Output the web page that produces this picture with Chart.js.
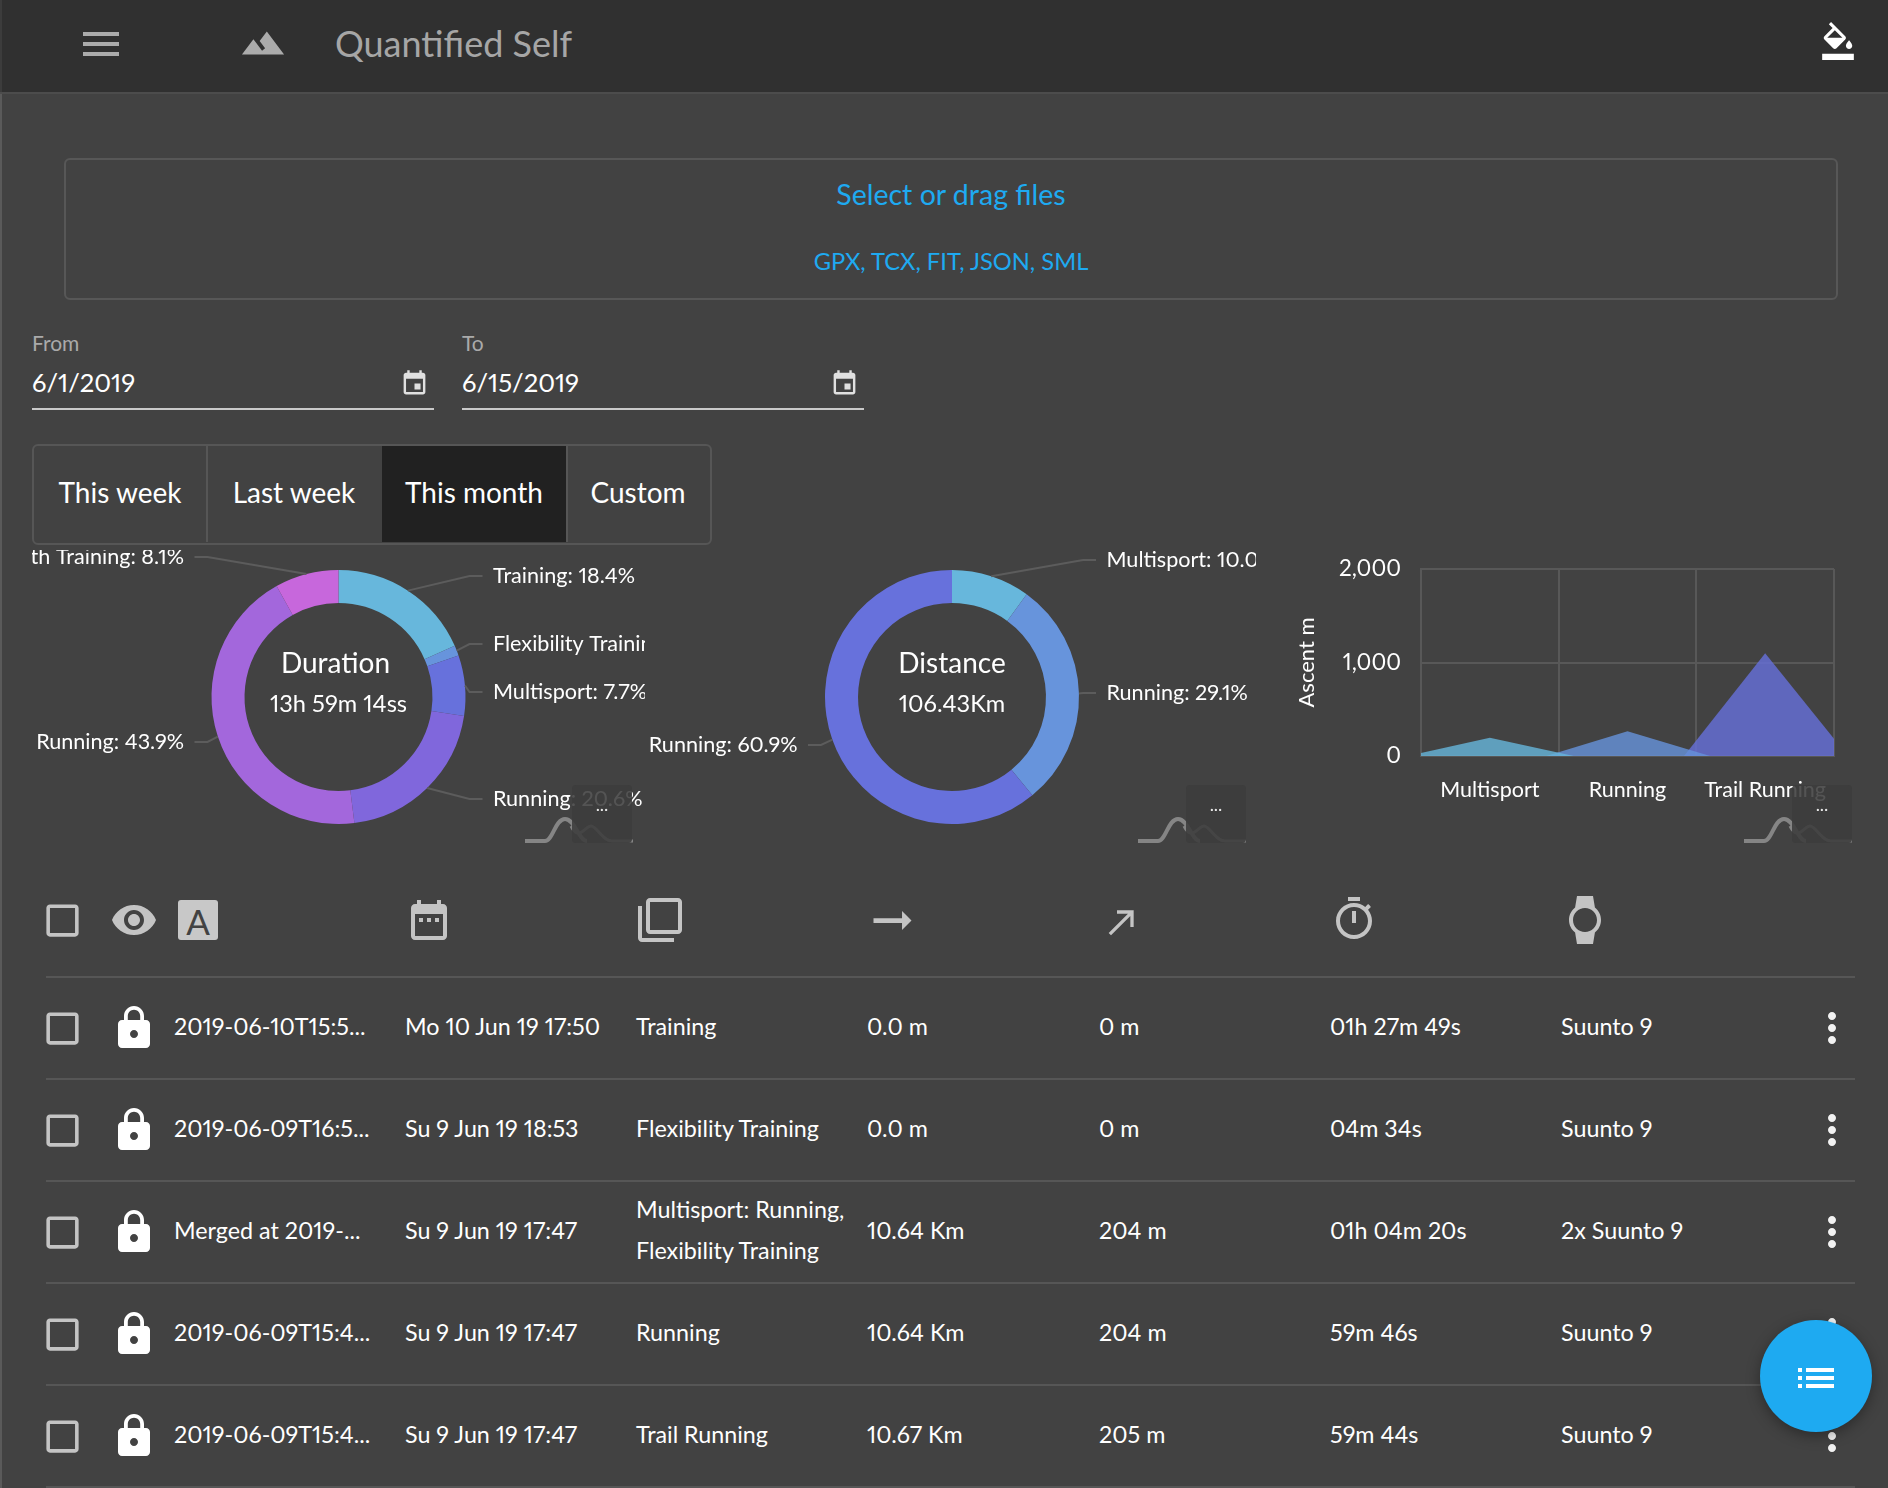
<!DOCTYPE html>
<html>
<head>
<meta charset="utf-8">
<title>Quantified Self</title>
<script src="https://cdn.jsdelivr.net/npm/chart.js@4/dist/chart.umd.min.js"></script>
<style>
  html, body { margin: 0; padding: 0; background: #424242; }
  #page { position: relative; width: 1888px; height: 1488px; overflow: hidden; background: #424242;
    font-family: Lato, "Open Sans", sans-serif; color: #fff; font-feature-settings: "pnum" 1; }
  #page > * { position: absolute; }
  .t { white-space: nowrap; line-height: 1; transform: translateY(-50%); }
  .c { transform: translate(-50%, -50%); }
  svg { display: block; }
  canvas { position: absolute; }
</style>
</head>
<body>
<div id="page"></div>
<script>
// table
const rowNames = ["2019-06-10T15:5...", "2019-06-09T16:5...", "Merged at 2019-...", "2019-06-09T15:4...", "2019-06-09T15:4..."];
const rowDates = ["Mo 10 Jun 19 17:50", "Su 9 Jun 19 18:53", "Su 9 Jun 19 17:47", "Su 9 Jun 19 17:47", "Su 9 Jun 19 17:47"];
const rowTypes = ["Training", "Flexibility Training", "Multisport: Running,|Flexibility Training", "Running", "Trail Running"];
const rowDistances = ["0.0 m", "0.0 m", "10.64 Km", "10.64 Km", "10.67 Km"];
const rowAscents = ["0 m", "0 m", "204 m", "204 m", "205 m"];
const rowDurations = ["01h 27m 49s", "04m 34s", "01h 04m 20s", "59m 46s", "59m 44s"];
const rowDevices = ["Suunto 9", "Suunto 9", "2x Suunto 9", "Suunto 9", "Suunto 9"];

// duration donut
const durationLabels = ["Training", "Flexibility Training", "Multisport", "Running", "Running", "Strength Training"];
const durationValues = [18.4, 1.3, 7.7, 20.6, 43.9, 8.1];

// distance donut
const distanceLabels = ["Multisport", "Running", "Running"];
const distanceValues = [10.0, 29.1, 60.9];

// ascent area chart
const ascentCategories = ["Multisport", "Running", "Trail Running"];
const multisportX = [0, 0.5, 1.11];
const multisportY = [32, 196, 0];
const runningX = [0.91, 1.5, 2.1];
const runningY = [0, 264, 0];
const trailX = [1.91, 2.5, 3];
const trailY = [0, 1100, 185];
const ascentTicks = [0, 1000, 2000];

const palette = ["#67b7dc", "#6794dc", "#6771dc", "#8067dc", "#a367dc", "#c767dc"];

// label rows, offset from donut centre
const durationRows = [-121, -53, -5, 102, 45, -140];
const distanceRows = [-137, -4, 48];

const page = document.getElementById("page");

const paths = {
  menu: "M3 18h18v-2H3v2zm0-5h18v-2H3v2zm0-7v2h18V6H3z",
  mountain: "M14 6l-3.75 5 2.85 3.8-1.6 1.2C9.81 13.75 7 10 7 10l-6 8h22L14 6z",
  fill: "M16.56 8.94L7.62 0 6.21 1.41l2.38 2.38-5.15 5.15c-.59.59-.59 1.54 0 2.12l5.5 5.5c.29.29.68.44 1.06.44s.77-.15 1.06-.44l5.5-5.5c.59-.58.59-1.53 0-2.12zM5.21 10L10 5.21 14.79 10H5.21zM19 11.5s-2 2.17-2 3.5c0 1.1.9 2 2 2s2-.9 2-2c0-1.33-2-3.5-2-3.5zM2 20h20v4H2v-4z",
  box: "M19 5v14H5V5h14m0-2H5c-1.1 0-2 .9-2 2v14c0 1.1.9 2 2 2h14c1.1 0 2-.9 2-2V5c0-1.1-.9-2-2-2z",
  lock: "M18 8h-1V6c0-2.76-2.24-5-5-5S7 3.24 7 6v2H6c-1.1 0-2 .9-2 2v10c0 1.1.9 2 2 2h12c1.1 0 2-.9 2-2V10c0-1.1-.9-2-2-2zm-6 9c-1.1 0-2-.9-2-2s.9-2 2-2 2 .9 2 2-.9 2-2 2zm3.1-9H8.9V6c0-1.71 1.39-3.1 3.1-3.1 1.71 0 3.1 1.39 3.1 3.1v2z",
  dots: "M12 8c1.1 0 2-.9 2-2s-.9-2-2-2-2 .9-2 2 .9 2 2 2zm0 2c-1.1 0-2 .9-2 2s.9 2 2 2 2-.9 2-2-.9-2-2-2zm0 6c-1.1 0-2 .9-2 2s.9 2 2 2 2-.9 2-2-.9-2-2-2z",
  eye: "M12 4.5C7 4.5 2.73 7.61 1 12c1.73 4.39 6 7.5 11 7.5s9.27-3.11 11-7.5c-1.73-4.39-6-7.5-11-7.5zM12 17c-2.76 0-5-2.24-5-5s2.24-5 5-5 5 2.24 5 5-2.24 5-5 5zm0-8c-1.66 0-3 1.34-3 3s1.34 3 3 3 3-1.34 3-3-1.34-3-3-3z",
  copy: "M3 5H1v16c0 1.1.9 2 2 2h16v-2H3V5zm18-4H7c-1.1 0-2 .9-2 2v14c0 1.1.9 2 2 2h14c1.1 0 2-.9 2-2V3c0-1.1-.9-2-2-2zm0 16H7V3h14v14z",
  range: "M9 11H7v2h2v-2zm4 0h-2v2h2v-2zm4 0h-2v2h2v-2zm2-7h-1V2h-2v2H8V2H6v2H5c-1.11 0-1.99.9-1.99 2L3 20c0 1.1.89 2 2 2h14c1.1 0 2-.9 2-2V6c0-1.1-.9-2-2-2zm0 16H5V9h14v11z",
  event: "M17 12h-5v5h5v-5zM16 1v2H8V1H6v2H5c-1.11 0-1.99.9-1.99 2L3 19c0 1.1.89 2 2 2h14c1.1 0 2-.9 2-2V5c0-1.1-.9-2-2-2h-1V1h-2zm3 18H5V8h14v11z",
  arrow: "M16.01 11H4v2h12.01v3L20 12l-3.99-4z",
  made: "M9 5v2h6.59L4 18.59 5.41 20 17 8.41V15h2V5z",
  timer: "M15 1H9v2h6V1zm-4 13h2V8h-2v6zm8.03-6.61l1.42-1.42c-.43-.51-.9-.99-1.41-1.41l-1.42 1.42C16.07 4.74 14.12 4 12 4c-4.97 0-9 4.03-9 9s4.02 9 9 9 9-4.03 9-9c0-2.12-.74-4.07-1.97-5.61zM12 20c-3.87 0-7-3.13-7-7s3.13-7 7-7 7 3.13 7 7-3.13 7-7 7z",
  watch: "M20 12c0-2.54-1.19-4.81-3.04-6.27L16 0H8l-.95 5.73C5.19 7.19 4 9.45 4 12s1.19 4.81 3.05 6.27L8 24h8l.96-5.73C18.81 16.81 20 14.54 20 12zM6 12c0-3.31 2.69-6 6-6s6 2.69 6 6-2.69 6-6 6-6-2.69-6-6z",
  list: "M3 13h2v-2H3v2zm0 4h2v-2H3v2zm0-8h2V7H3v2zm4 4h14v-2H7v2zm0 4h14v-2H7v2zM7 7v2h14V7H7z"
};

function box(x, y, w, h, css) {
  const el = document.createElement("div");
  el.style.cssText = `left:${x}px;top:${y}px;width:${w}px;height:${h}px;${css || ""}`;
  page.appendChild(el);
  return el;
}

function text(str, x, y, size, color, center) {
  const el = document.createElement("div");
  el.className = center ? "t c" : "t";
  el.textContent = str;
  el.style.cssText = `left:${x}px;top:${y}px;font-size:${size}px;color:${color || "#fff"}`;
  page.appendChild(el);
  return el;
}

function icon(name, cx, cy, size, color) {
  const holder = document.createElement("div");
  holder.style.cssText = `left:${cx - size / 2}px;top:${cy - size / 2}px;width:${size}px;height:${size}px`;
  holder.innerHTML = `<svg width="${size}" height="${size}" viewBox="0 0 24 24"><path fill="${color}" d="${paths[name]}"/></svg>`;
  page.appendChild(holder);
}

// header
box(0, 0, 1888, 92, "background:#303030");
box(0, 92, 1888, 2, "background:#4c4c4c");
box(0, 0, 2, 92, "background:#3c3c3c");
box(0, 94, 2, 1394, "background:#5a5a5a");
icon("menu", 101, 44, 48, "#ababab");
icon("mountain", 263, 43, 46, "#ababab");
text("Quantified Self", 335, 43, 36, "#a6a6a6");
icon("fill", 1838, 41, 38, "#fff");

// drop zone
box(64, 158, 1770, 138, "border:2px solid #575757;border-radius:6px");
text("Select or drag files", 951, 194, 28.5, "#1eaaf1", true);
text("GPX, TCX, FIT, JSON, SML", 951, 262, 23.7, "#1eaaf1", true);

// date inputs
text("From", 32, 342, 21, "#aaaaaa");
text("6/1/2019", 32, 383, 25.6);
box(32, 408, 402, 2, "background:#c9c9c9");
icon("event", 414, 383, 29, "#e0e0e0");
text("To", 462, 342, 21, "#aaaaaa");
text("6/15/2019", 462, 383, 25.6);
box(462, 408, 402, 2, "background:#c9c9c9");
icon("event", 844, 383, 29, "#e0e0e0");

// range buttons
box(382, 445, 185, 97, "background:#212121");
box(32, 444, 676, 97, "border:2px solid #565656;border-radius:6px");
box(206, 445, 2, 97, "background:#565656");
box(566, 445, 2, 97, "background:#565656");
text("This week", 120, 492, 28, "#fff", true);
text("Last week", 294, 492, 28, "#fff", true);
text("This month", 474, 492, 28, "#fff", true);
text("Custom", 638, 492, 28, "#fff", true);

// table header
icon("box", 62, 920, 43, "#c4c4c4");
icon("eye", 134, 920, 48, "#c4c4c4");
box(178, 900, 40, 40, "background:#c8c8c8;border-radius:3px");
text("A", 198, 921, 35, "#424242", true);
icon("range", 429, 920, 48, "#c4c4c4");
icon("copy", 660, 920, 48, "#c4c4c4");
icon("arrow", 892, 920, 57, "#c4c4c4");
icon("made", 1122, 922, 40, "#c4c4c4");
icon("timer", 1354, 919, 48, "#c4c4c4");
icon("watch", 1585, 920, 48, "#c4c4c4");
box(46, 976, 1809, 2, "background:#565656");

// table rows
rowNames.forEach((name, i) => {
  const y = 1026 + i * 102;
  const ty = y + 0.5;
  icon("box", 62, y + 2, 43, "#c4c4c4");
  icon("lock", 134, y + 2, 48, "#fff");
  text(name, 174, ty, 23.3);
  text(rowDates[i], 405, ty, 23.3);
  const typeLines = rowTypes[i].split("|");
  if (typeLines.length > 1) {
    text(typeLines[0], 636, ty - 21, 23.3);
    text(typeLines[1], 636, ty + 20, 23.3);
  } else {
    text(typeLines[0], 636, ty, 23.3);
  }
  text(rowDistances[i], 867, ty, 23.3);
  text(rowAscents[i], 1099, ty, 23.3);
  text(rowDurations[i], 1330, ty, 23.3);
  text(rowDevices[i], 1561, ty, 23.3);
  icon("dots", 1832, y + 2, 48, "#f2f2f2");
  box(46, 1078 + i * 102, 1809, 2, "background:#565656");
});

// donut labels and centre text
const arcLabels = {
  id: "arcLabels",
  afterDraw(chart, args, opts) {
    const ctx = chart.ctx;
    const meta = chart.getDatasetMeta(0);
    const values = chart.data.datasets[0].data;
    ctx.save();
    meta.data.forEach((arc, i) => {
      const mid = (arc.startAngle + arc.endAngle) / 2;
      const side = Math.cos(mid) >= 0 ? 1 : -1;
      const ly = arc.y + opts.rows[i];
      ctx.strokeStyle = "#5c5c5c";
      ctx.lineWidth = 2;
      ctx.beginPath();
      ctx.moveTo(arc.x + Math.cos(mid) * arc.outerRadius, arc.y + Math.sin(mid) * arc.outerRadius);
      ctx.lineTo(arc.x + side * 131, ly);
      ctx.lineTo(arc.x + side * 144, ly);
      ctx.stroke();
      ctx.fillStyle = "#fff";
      ctx.font = "21.6px Lato";
      ctx.textAlign = side > 0 ? "left" : "right";
      ctx.textBaseline = "middle";
      ctx.fillText(`${chart.data.labels[i]}: ${values[i].toFixed(1)}%`, arc.x + side * 154.5, ly);
    });
    const first = meta.data[0];
    ctx.textAlign = "center";
    ctx.fillStyle = "#fff";
    ctx.font = "28px Lato";
    ctx.fillText(opts.title, first.x + opts.titleShift, first.y - 33);
    ctx.font = "23.6px Lato";
    ctx.fillText(opts.value, first.x, first.y + 7);
    ctx.restore();
  }
};

function addCanvas(x, y, w, h) {
  const canvas = document.createElement("canvas");
  canvas.width = w;
  canvas.height = h;
  canvas.style.left = x + "px";
  canvas.style.top = y + "px";
  page.appendChild(canvas);
  return canvas;
}

function donut(canvas, labels, values, rows, title, value, titleShift) {
  return new Chart(canvas, {
    type: "doughnut",
    plugins: [arcLabels],
    data: { labels, datasets: [{ data: values, backgroundColor: palette, borderWidth: 0 }] },
    options: {
      responsive: false,
      animation: false,
      cutout: "74%",
      layout: { padding: { top: 20, bottom: 26 } },
      plugins: {
        legend: { display: false },
        tooltip: { enabled: false },
        arcLabels: { rows, title, value, titleShift }
      }
    }
  });
}

donut(addCanvas(32, 550, 613, 300), durationLabels, durationValues, durationRows, "Duration", "13h 59m 14ss", -3);
const distanceCanvas = addCanvas(645, 550, 614, 300);
distanceCanvas.style.clipPath = "inset(0 3px 0 0)";
donut(distanceCanvas, distanceLabels, distanceValues, distanceRows, "Distance", "106.43Km", 0);

function areaSeries(label, xs, ys, color) {
  return {
    label,
    data: xs.map((x, i) => ({ x, y: ys[i] })),
    fill: "origin",
    backgroundColor: color,
    borderWidth: 0,
    pointRadius: 0,
    tension: 0
  };
}

new Chart(addCanvas(1280, 550, 580, 300), {
  type: "line",
  data: {
    datasets: [
      areaSeries("Multisport", multisportX, multisportY, "rgba(103,183,220,0.8)"),
      areaSeries("Running", runningX, runningY, "rgba(103,148,220,0.8)"),
      areaSeries("Trail Running", trailX, trailY, "rgba(103,113,220,0.8)")
    ]
  },
  options: {
    responsive: false,
    animation: false,
    layout: { padding: { top: 19, right: 26 } },
    plugins: { legend: { display: false }, tooltip: { enabled: false } },
    scales: {
      x: {
        type: "linear",
        min: 0,
        max: 3,
        afterFit: (scale) => { scale.height = 94; },
        border: { color: "#585858", width: 2 },
        grid: {
          lineWidth: 2,
          drawTicks: false,
          color: (ctx) => (Number.isInteger(ctx.tick.value) ? "#585858" : "transparent")
        },
        ticks: {
          stepSize: 0.5,
          autoSkip: false,
          maxRotation: 0,
          padding: 21,
          color: "#fff",
          font: { family: "Lato", size: 21.5 },
          callback: (v) => (Number.isInteger(v) ? "" : ascentCategories[Math.floor(v)])
        }
      },
      y: {
        min: ascentTicks[0],
        max: ascentTicks[2],
        // tick padding would otherwise push the plot top down
        afterFit: (scale) => { scale.width = 141; scale.paddingTop = 0; scale.paddingBottom = 0; },
        border: { color: "#585858", width: 2 },
        grid: { lineWidth: 2, color: "#585858", drawTicks: false },
        title: { display: true, text: "Ascent m", color: "#fff", font: { family: "Lato", size: 22 }, padding: { top: 14, bottom: 0 } },
        ticks: { stepSize: 1000, padding: 20, color: "#fff", font: { family: "Lato", size: 22.5 } }
      }
    }
  }
});

// export button and chart logo over each chart
function chartBadge(logoX, buttonX) {
  const logo = document.createElement("div");
  logo.style.cssText = `left:${logoX}px;top:816px;width:108px;height:28px`;
  logo.innerHTML = `<svg width="108" height="28" viewBox="0 0 108 28"><path d="M46 10C54 26 60 10 66 10C72 10 78 26 88 25H108" fill="none" stroke="#858585" stroke-width="3"/><path d="M0 25H20C28 25 30 3 40 3C50 3 54 25 62 25" fill="none" stroke="#858585" stroke-width="4"/></svg>`;
  page.appendChild(logo);
  box(buttonX, 785, 60, 58, "background:rgba(60,60,60,0.88);border-radius:4px");
  text("...", buttonX + 30, 804, 18, "#eee", true);
}
chartBadge(525, 572);
chartBadge(1138, 1186);
chartBadge(1744, 1792);

// floating button
box(1760, 1320, 112, 112, "background:#1eaaf1;border-radius:50%;box-shadow:0 4px 14px rgba(0,0,0,0.35)");
icon("list", 1816, 1378, 48, "#fff");
</script>
</body>
</html>
